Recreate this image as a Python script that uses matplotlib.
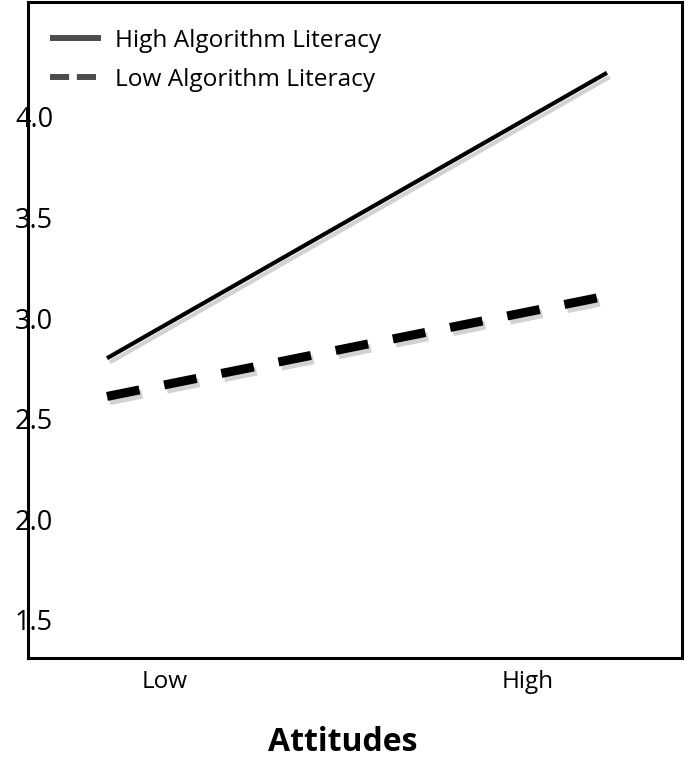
import matplotlib
matplotlib.use("Agg")
import matplotlib.pyplot as plt
import matplotlib.patheffects as pe
from matplotlib.lines import Line2D

# data
attitude_levels = [0.0, 1.0]          # Low, High attitudes
high_literacy = [2.80, 4.22]
low_literacy = [2.61, 3.11]
series_names = ["High Algorithm Literacy", "Low Algorithm Literacy"]
x_ticklabels = ["Low", "High"]
x_label_pos = [0.116, 0.842]
x_gap_pos = [0.026, 0.276, 0.748, 1.008]
y_ticks = [1.5, 2.0, 2.5, 3.0, 3.5, 4.0]

plt.rcParams['font.family'] = ['Open Sans', 'DejaVu Sans']

fig = plt.figure(figsize=(6.85, 7.59), dpi=100)
ax = fig.add_axes([28 / 685, 101 / 759, 654 / 685, 656 / 759])

shadow = [pe.SimpleLineShadow(offset=(2, -3), shadow_color='gray', alpha=0.35),
          pe.Normal()]
ax.plot(attitude_levels, high_literacy, color='black', lw=3.0,
        solid_capstyle='butt', path_effects=shadow)
ax.plot(attitude_levels, low_literacy, color='black', lw=6.5,
        dashes=(3.66, 2.8), dash_capstyle='butt', path_effects=shadow)

ax.set_xlim(-0.158, 1.15)
ax.set_ylim(1.309, 4.572)

ax.set_yticks(y_ticks)
ax.set_yticklabels([f"{v:.1f}" for v in y_ticks])
ax.tick_params(axis='y', length=0, pad=-18, labelsize=19.5)

ax.set_xticks(x_label_pos)
ax.set_xticklabels(x_ticklabels)
ax.tick_params(axis='x', which='major', length=0, pad=9, labelsize=17.5)
ax.set_xticks(x_gap_pos, minor=True)
ax.tick_params(axis='x', which='minor', length=6, width=2, color='white',
               direction='inout')

for sp in ax.spines.values():
    sp.set_linewidth(2.2)
    sp.set_color('black')

ax.set_xlabel("Attitudes", fontsize=23, fontweight='bold')
ax.xaxis.set_label_coords(0.4817, -0.104)

handles = [Line2D([], [], color='#4d4d4d', lw=4.3, solid_capstyle='butt'),
           Line2D([], [], color='#4d4d4d', lw=4.3, dashes=(3.2, 1.3),
                  dash_capstyle='butt')]
ax.legend(handles, series_names, loc='upper left', frameon=False,
          fontsize=17.6, handlelength=2.1, handletextpad=0.57,
          labelspacing=0.6, borderaxespad=0.5, bbox_to_anchor=(0.0, 0.9924))

fig.savefig("out.png", dpi=100)
